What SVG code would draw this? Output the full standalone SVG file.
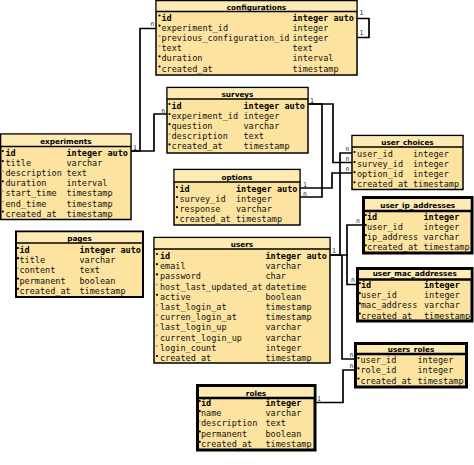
<svg xmlns="http://www.w3.org/2000/svg" width="474" height="465" viewBox="0 0 474 465">
<style>
.bd{fill:#fce3a0;stroke:#000;stroke-width:1.5}
.thick .bd{stroke-width:3}
.hd{fill:#fdebb3}
.sp{stroke:#000;stroke-width:1.5}
.thick .sp{stroke-width:2.5}
.ti{font-family:"DejaVu Sans",sans-serif;font-weight:bold;font-size:7.3px;text-anchor:middle;fill:#000}
.r{font-family:"DejaVu Sans Mono",monospace;font-size:8.5px;fill:#111}
.pk{font-weight:bold;fill:#000}
.k{fill:#000}
.g{fill:#a8a8a8}
.cn path{fill:none;stroke:#000;stroke-width:1.7}
.lb{font-family:"DejaVu Sans Mono",monospace;font-size:6.5px;fill:#222}
</style>
<rect width="474" height="465" fill="#fff"/>

<g id="connectors" class="cn">
<path d="M131,151 H140 V28.5 H156"/>
<path d="M131,151 H154 V114 H167"/>
<path d="M357,18.5 H369 V37.5 H357"/>
<path d="M308,104 H322 V197 H300"/>
<path d="M308,104 H333 V162.5 H352"/>
<path d="M300,188 H332 V173 H352"/>
<path d="M330,255 H340 V153 H352"/>
<path d="M330,255 H347 V225 H363"/>
<path d="M347,255 V284.5 H357"/>
<path d="M342,255 V359 H355"/>
<path d="M315,402.5 H343 V370 H355"/>
<text class="lb" x="133" y="149.5">1</text>
<text class="lb" x="150.5" y="26">n</text>
<text class="lb" x="161.3" y="112.5">n</text>
<text class="lb" x="359.5" y="15">1</text>
<text class="lb" x="359.5" y="35">1</text>
<text class="lb" x="310" y="102.5">1</text>
<text class="lb" x="303" y="186.5">1</text>
<text class="lb" x="303" y="195.5">n</text>
<text class="lb" x="345.5" y="150.5">n</text>
<text class="lb" x="345.5" y="160.5">n</text>
<text class="lb" x="345.5" y="170.5">n</text>
<text class="lb" x="332" y="253">1</text>
<text class="lb" x="356" y="222.5">n</text>
<text class="lb" x="351" y="282">n</text>
<text class="lb" x="349.5" y="357">n</text>
<text class="lb" x="349.5" y="367.5">n</text>
<text class="lb" x="317" y="400.5">1</text>
</g>

<g id="configurations">
<rect class="bd" x="156" y="0.75" width="201" height="74.25"/>
<rect class="hd" x="156.75" y="1.5" width="199.5" height="10"/>
<line class="sp" x1="156" y1="11.5" x2="357" y2="11.5"/>
<text class="ti" x="256.5" y="9.5">configurations</text>
<circle class="k" cx="159.5" cy="15.5" r="1.1"/><text class="r pk" x="161.5" y="20.5">id</text><text class="r pk" x="292.5" y="20.5">integer auto</text>
<circle class="k" cx="159.5" cy="25.7" r="1.1"/><text class="r" x="161.5" y="30.7">experiment_id</text><text class="r" x="292.5" y="30.7">integer</text>
<circle class="g" cx="159.5" cy="35.9" r="1.1"/><text class="r" x="161.5" y="40.9">previous_configuration_id</text><text class="r" x="292.5" y="40.9">integer</text>
<circle class="g" cx="159.5" cy="46.1" r="1.1"/><text class="r" x="161.5" y="51.1">text</text><text class="r" x="292.5" y="51.1">text</text>
<circle class="k" cx="159.5" cy="56.3" r="1.1"/><text class="r" x="161.5" y="61.3">duration</text><text class="r" x="292.5" y="61.3">interval</text>
<circle class="k" cx="159.5" cy="66.5" r="1.1"/><text class="r" x="161.5" y="71.5">created_at</text><text class="r" x="292.5" y="71.5">timestamp</text>
</g>

<g id="experiments">
<rect class="bd" x="0.75" y="134" width="130.25" height="85.5"/>
<rect class="hd" x="1.5" y="134.75" width="128.75" height="11"/>
<line class="sp" x1="0.75" y1="146.5" x2="131" y2="146.5"/>
<text class="ti" x="65.9" y="143.5">experiments</text>
<circle class="k" cx="2.8" cy="151" r="1.1"/><text class="r pk" x="5.5" y="156">id</text><text class="r pk" x="66.5" y="156">integer auto</text>
<circle class="k" cx="2.8" cy="161.1" r="1.1"/><text class="r" x="5.5" y="166.1">title</text><text class="r" x="66.5" y="166.1">varchar</text>
<circle class="g" cx="2.8" cy="171.2" r="1.1"/><text class="r" x="5.5" y="176.2">description</text><text class="r" x="66.5" y="176.2">text</text>
<circle class="k" cx="2.8" cy="181.3" r="1.1"/><text class="r" x="5.5" y="186.3">duration</text><text class="r" x="66.5" y="186.3">interval</text>
<circle class="g" cx="2.8" cy="191.4" r="1.1"/><text class="r" x="5.5" y="196.4">start_time</text><text class="r" x="66.5" y="196.4">timestamp</text>
<circle class="g" cx="2.8" cy="201.5" r="1.1"/><text class="r" x="5.5" y="206.5">end_time</text><text class="r" x="66.5" y="206.5">timestamp</text>
<circle class="k" cx="2.8" cy="211.6" r="1.1"/><text class="r" x="5.5" y="216.6">created_at</text><text class="r" x="66.5" y="216.6">timestamp</text>
</g>

<g id="surveys">
<rect class="bd" x="167" y="87.5" width="141" height="65.5"/>
<rect class="hd" x="167.75" y="88.25" width="139.5" height="10"/>
<line class="sp" x1="167" y1="99" x2="308" y2="99"/>
<text class="ti" x="237.5" y="96.5">surveys</text>
<circle class="k" cx="169.5" cy="104" r="1.1"/><text class="r pk" x="171.5" y="109">id</text><text class="r pk" x="243.5" y="109">integer auto</text>
<circle class="k" cx="169.5" cy="114.1" r="1.1"/><text class="r" x="171.5" y="119.1">experiment_id</text><text class="r" x="243.5" y="119.1">integer</text>
<circle class="k" cx="169.5" cy="124.2" r="1.1"/><text class="r" x="171.5" y="129.2">question</text><text class="r" x="243.5" y="129.2">varchar</text>
<circle class="g" cx="169.5" cy="134.3" r="1.1"/><text class="r" x="171.5" y="139.3">description</text><text class="r" x="243.5" y="139.3">text</text>
<circle class="k" cx="169.5" cy="144.4" r="1.1"/><text class="r" x="171.5" y="149.4">created_at</text><text class="r" x="243.5" y="149.4">timestamp</text>
</g>

<g id="options">
<rect class="bd" x="174" y="169.5" width="126" height="55.5"/>
<rect class="hd" x="174.75" y="170.25" width="124.5" height="11"/>
<line class="sp" x1="174" y1="182" x2="300" y2="182"/>
<text class="ti" x="237" y="179.5">options</text>
<circle class="k" cx="177" cy="187" r="1.1"/><text class="r pk" x="179.5" y="192">id</text><text class="r pk" x="236" y="192">integer auto</text>
<circle class="k" cx="177" cy="197.1" r="1.1"/><text class="r" x="179.5" y="202.1">survey_id</text><text class="r" x="236" y="202.1">integer</text>
<circle class="k" cx="177" cy="207.2" r="1.1"/><text class="r" x="179.5" y="212.2">response</text><text class="r" x="236" y="212.2">varchar</text>
<circle class="k" cx="177" cy="217.3" r="1.1"/><text class="r" x="179.5" y="222.3">created_at</text><text class="r" x="236" y="222.3">timestamp</text>
</g>

<g id="user_choices">
<rect class="bd" x="352" y="135.5" width="111" height="54"/>
<rect class="hd" x="352.75" y="136.25" width="109.5" height="10"/>
<line class="sp" x1="352" y1="147" x2="463" y2="147"/>
<text class="ti" x="407.5" y="144.5">user_choices</text>
<circle class="k" cx="354.5" cy="152" r="1.1"/><text class="r" x="357" y="157">user_id</text><text class="r" x="413" y="157">integer</text>
<circle class="k" cx="354.5" cy="162.1" r="1.1"/><text class="r" x="357" y="167.1">survey_id</text><text class="r" x="413" y="167.1">integer</text>
<circle class="k" cx="354.5" cy="172.2" r="1.1"/><text class="r" x="357" y="177.2">option_id</text><text class="r" x="413" y="177.2">integer</text>
<circle class="k" cx="354.5" cy="182.3" r="1.1"/><text class="r" x="357" y="187.3">created_at</text><text class="r" x="413" y="187.3">timestamp</text>
</g>

<g id="user_ip_addresses" class="thick">
<rect class="bd" x="363.5" y="197.5" width="108.5" height="55.5"/>
<rect class="hd" x="365" y="199" width="105.5" height="11"/>
<line class="sp" x1="363.5" y1="211" x2="472" y2="211"/>
<text class="ti" x="417.7" y="207.5">user_ip_addresses</text>
<circle class="k" cx="365.8" cy="215" r="1.1"/><text class="r pk" x="367" y="220">id</text><text class="r pk" x="423.5" y="220">integer</text>
<circle class="k" cx="365.8" cy="225.1" r="1.1"/><text class="r" x="367" y="230.1">user_id</text><text class="r" x="423.5" y="230.1">integer</text>
<circle class="k" cx="365.8" cy="235.2" r="1.1"/><text class="r" x="367" y="240.2">ip_address</text><text class="r" x="423.5" y="240.2">varchar</text>
<circle class="k" cx="365.8" cy="245.3" r="1.1"/><text class="r" x="367" y="250.3">created_at</text><text class="r" x="423.5" y="250.3">timestamp</text>
</g>

<g id="users">
<rect class="bd" x="154" y="237.5" width="176" height="125.5"/>
<rect class="hd" x="154.75" y="238.25" width="174.5" height="10"/>
<line class="sp" x1="154" y1="249" x2="330" y2="249"/>
<text class="ti" x="242" y="246.5">users</text>
<circle class="k" cx="157" cy="254" r="1.1"/><text class="r pk" x="160" y="259">id</text><text class="r pk" x="265.5" y="259">integer auto</text>
<circle class="k" cx="157" cy="264.2" r="1.1"/><text class="r" x="160" y="269.2">email</text><text class="r" x="265.5" y="269.2">varchar</text>
<circle class="k" cx="157" cy="274.4" r="1.1"/><text class="r" x="160" y="279.4">password</text><text class="r" x="265.5" y="279.4">char</text>
<circle class="g" cx="157" cy="284.6" r="1.1"/><text class="r" x="160" y="289.6">host_last_updated_at</text><text class="r" x="265.5" y="289.6">datetime</text>
<circle class="k" cx="157" cy="294.8" r="1.1"/><text class="r" x="160" y="299.8">active</text><text class="r" x="265.5" y="299.8">boolean</text>
<circle class="g" cx="157" cy="305" r="1.1"/><text class="r" x="160" y="310">last_login_at</text><text class="r" x="265.5" y="310">timestamp</text>
<circle class="g" cx="157" cy="315.2" r="1.1"/><text class="r" x="160" y="320.2">curren_login_at</text><text class="r" x="265.5" y="320.2">timestamp</text>
<circle class="g" cx="157" cy="325.4" r="1.1"/><text class="r" x="160" y="330.4">last_login_up</text><text class="r" x="265.5" y="330.4">varchar</text>
<circle class="g" cx="157" cy="335.6" r="1.1"/><text class="r" x="160" y="340.6">current_login_up</text><text class="r" x="265.5" y="340.6">varchar</text>
<circle class="g" cx="157" cy="345.8" r="1.1"/><text class="r" x="160" y="350.8">login_count</text><text class="r" x="265.5" y="350.8">integer</text>
<circle class="k" cx="157" cy="356" r="1.1"/><text class="r" x="160" y="361">created_at</text><text class="r" x="265.5" y="361">timestamp</text>
</g>

<g id="user_mac_addresses" class="thick">
<rect class="bd" x="357.5" y="268.5" width="114.5" height="52.5"/>
<rect class="hd" x="359" y="270" width="111.5" height="9"/>
<line class="sp" x1="357.5" y1="279.5" x2="472" y2="279.5"/>
<text class="ti" x="414.7" y="276.3">user_mac_addresses</text>
<circle class="k" cx="359.8" cy="283" r="1.1"/><text class="r pk" x="361" y="288">id</text><text class="r pk" x="424" y="288">integer</text>
<circle class="k" cx="359.8" cy="293.2" r="1.1"/><text class="r" x="361" y="298.2">user_id</text><text class="r" x="424" y="298.2">integer</text>
<circle class="k" cx="359.8" cy="303.4" r="1.1"/><text class="r" x="361" y="308.4">mac_address</text><text class="r" x="424" y="308.4">varchar</text>
<circle class="k" cx="359.8" cy="313.6" r="1.1"/><text class="r" x="361" y="318.6">created_at</text><text class="r" x="424" y="318.6">timestamp</text>
</g>

<g id="pages">
<rect class="bd" x="16" y="231.5" width="127" height="65.5" style="stroke-width:2"/>
<rect class="hd" x="17" y="232.5" width="125" height="10"/>
<line class="sp" x1="16" y1="243" x2="143" y2="243"/>
<text class="ti" x="79.5" y="240.5">pages</text>
<circle class="k" cx="18" cy="248" r="1.1"/><text class="r pk" x="19.5" y="253">id</text><text class="r pk" x="79.5" y="253">integer auto</text>
<circle class="k" cx="18" cy="258.2" r="1.1"/><text class="r" x="19.5" y="263.2">title</text><text class="r" x="79.5" y="263.2">varchar</text>
<circle class="g" cx="18" cy="268.4" r="1.1"/><text class="r" x="19.5" y="273.4">content</text><text class="r" x="79.5" y="273.4">text</text>
<circle class="k" cx="18" cy="278.6" r="1.1"/><text class="r" x="19.5" y="283.6">permanent</text><text class="r" x="79.5" y="283.6">boolean</text>
<circle class="k" cx="18" cy="288.8" r="1.1"/><text class="r" x="19.5" y="293.8">created_at</text><text class="r" x="79.5" y="293.8">timestamp</text>
</g>

<g id="users_roles" class="thick">
<rect class="bd" x="355.5" y="343.5" width="111" height="43.5"/>
<rect class="hd" x="357" y="345" width="108" height="8.5"/>
<line class="sp" x1="355.5" y1="354" x2="466.5" y2="354"/>
<text class="ti" x="411" y="351.5">users_roles</text>
<circle class="k" cx="358.5" cy="358" r="1.1"/><text class="r" x="360.5" y="363">user_id</text><text class="r" x="417.5" y="363">integer</text>
<circle class="k" cx="358.5" cy="368.3" r="1.1"/><text class="r" x="360.5" y="373.3">role_id</text><text class="r" x="417.5" y="373.3">integer</text>
<circle class="k" cx="358.5" cy="378.6" r="1.1"/><text class="r" x="360.5" y="383.6">created_at</text><text class="r" x="417.5" y="383.6">timestamp</text>
</g>

<g id="roles" class="thick">
<rect class="bd" x="197.5" y="385.5" width="117.5" height="64.5"/>
<rect class="hd" x="199" y="387" width="114.5" height="10.5"/>
<line class="sp" x1="197.5" y1="398" x2="315" y2="398"/>
<text class="ti" x="256" y="395.5">roles</text>
<circle class="k" cx="199.8" cy="401" r="1.1"/><text class="r pk" x="201" y="406">id</text><text class="r pk" x="265.5" y="406">integer</text>
<circle class="k" cx="199.8" cy="411.2" r="1.1"/><text class="r" x="201" y="416.2">name</text><text class="r" x="265.5" y="416.2">varchar</text>
<circle class="g" cx="199.8" cy="421.4" r="1.1"/><text class="r" x="201" y="426.4">description</text><text class="r" x="265.5" y="426.4">text</text>
<circle class="k" cx="199.8" cy="431.6" r="1.1"/><text class="r" x="201" y="436.6">permanent</text><text class="r" x="265.5" y="436.6">boolean</text>
<circle class="k" cx="199.8" cy="441.8" r="1.1"/><text class="r" x="201" y="446.8">created_at</text><text class="r" x="265.5" y="446.8">timestamp</text>
</g>
</svg>
